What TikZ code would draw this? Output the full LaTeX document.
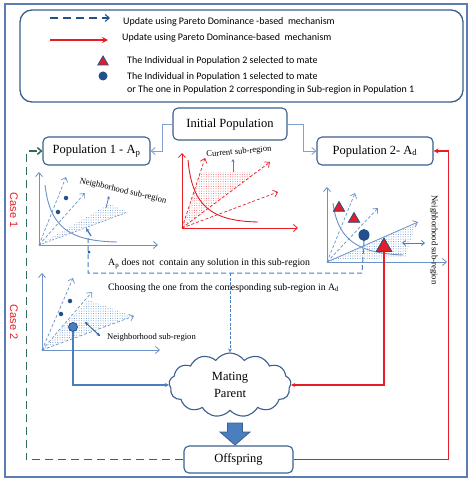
\documentclass[tikz,border=0pt]{standalone}
\usepackage{fontspec}
\setmainfont{Liberation Serif}
\newfontfamily\legfont{Carlito}
\newfontfamily\casefont{Liberation Sans}
\usetikzlibrary{arrows.meta,shapes.symbols,shapes.geometric,patterns.meta,calc}
\definecolor{frameblue}{HTML}{5B7DB1}
\definecolor{boxblue}{HTML}{3B5E8C}
\definecolor{lineblue}{HTML}{7FA2D2}
\definecolor{plotblue}{HTML}{6B93C8}
\definecolor{darkblue}{HTML}{21508C}
\definecolor{midblue}{HTML}{4A7EBE}
\definecolor{casegreen}{HTML}{2F6A5E}
\definecolor{myred}{HTML}{E41E26}
\begin{document}
\begin{tikzpicture}[x=1pt,y=-1pt,
  box/.style={draw=boxblue,line width=1.1pt,rounded corners=5pt,fill=white,inner sep=0pt,
    font=\fontsize{12.5}{14}\selectfont},
  opentip/.style={-{Straight Barb[length=4pt,width=7pt]}},
  axis/.style={draw=plotblue,line width=0.8pt,-{Straight Barb[length=4pt,width=7pt]}},
  ray/.style={draw=plotblue,line width=0.7pt,dash pattern=on 3pt off 2pt,-{Straight Barb[length=4pt,width=7pt]}},
  redaxis/.style={draw=myred,line width=0.8pt,-{Straight Barb[length=4pt,width=7pt]}},
  redray/.style={draw=myred,line width=0.7pt,dash pattern=on 3pt off 2pt,-{Straight Barb[length=4pt,width=7pt]}},
  shade/.style={pattern={Dots[radius=0.5pt,distance=2.4pt]},pattern color=plotblue},
  small/.style={font=\fontsize{8.6}{9.5}\selectfont,inner sep=0pt},
  mid/.style={font=\fontsize{9.8}{11}\selectfont,inner sep=0pt,anchor=west},
  leg/.style={font=\legfont\fontsize{10}{12}\selectfont,inner sep=0pt,anchor=west},
  tri/.style={regular polygon,regular polygon sides=3,fill=myred,draw=darkblue,line width=0.8pt,inner sep=0pt},
  dot/.style={circle,fill=darkblue,inner sep=0pt,minimum size=4.5pt},
]
\useasboundingbox (0,0) rectangle (474,484);
\fill[white] (0,0) rectangle (474,484);
% outer frame
\draw[frameblue,line width=1.3pt] (5,4) rectangle (467,477);
% legend
\draw[boxblue,line width=1.3pt,rounded corners=12pt] (20,10) rectangle (463,102);
\coordinate (la1) at (50,18); \coordinate (la2) at (110,18);
\draw[darkblue,line width=1.1pt,dash pattern=on 8pt off 5pt,opentip] (la1) -- (la2);
\coordinate (lb1) at (50,40); \coordinate (lb2) at (108,40);
\draw[myred,line width=1.1pt,-{Stealth[length=6pt,width=6pt]}] (lb1) -- (lb2);
\node[leg] (lt1) at (123,22) {Update using Pareto Dominance -based\ \ mechanism};
\node[leg] (lt2) at (122,38) {Update using Pareto Dominance-based\ \ mechanism};
\node[tri,minimum size=12pt] (ltri) at (103,62) {};
\node[leg] (lt3) at (127,61) {The Individual in Population 2 selected to mate};
\node[circle,fill=darkblue,inner sep=0pt,minimum size=9pt] (lcir) at (103,76) {};
\node[leg] (lt4) at (127,77) {The Individual in Population 1 selected to mate};
\node[leg] (lt5) at (127,90) {or The one in Population 2 corresponding in Sub-region in Population 1};

% main boxes
\node[box,minimum width=114pt,minimum height=32pt] (init) at (230,124) {Initial Population};
\node[box,minimum width=107pt,minimum height=28pt] (pop1) at (96.5,151) {Population 1 - A\textsubscript{p}};
\node[box,minimum width=116pt,minimum height=28pt] (pop2) at (375,151) {Population 2- A\textsubscript{d}};
\node[box,minimum width=109pt,minimum height=27pt] (off) at (238.5,459.5) {Offspring};
\node[cloud,cloud puffs=13,cloud puff arc=110,aspect=1.9,draw=boxblue,line width=1.1pt,
  minimum width=122pt,minimum height=64pt,inner sep=0pt,align=center,
  font=\fontsize{12.5}{17}\selectfont] (cloud) at (230,385) {Mating\\Parent};

% connectors from initial population
\draw[lineblue,line width=0.9pt,opentip] (init.west) -- +(-10,0) |- (pop1.east);
\draw[lineblue,line width=0.9pt,opentip] (init.east) -- +(16,0) |- (pop2.west);
% red feedback
\draw[myred,line width=1.2pt,-{Stealth[length=5pt,width=5pt]}] (off.east) -| ($(pop2.east)+(15,0)$) -- (pop2.east);
% green dashed feedback
\draw[casegreen,line width=1.5pt,dash pattern=on 8pt off 5pt,opentip] (off.west) -| ($(pop1.west)+(-16,0)$) -- (pop1.west);
\node[rotate=-90,text=myred,font=\casefont\fontsize{11}{12}\selectfont,inner sep=0pt] (case1) at (14,210) {Case 1};
\node[rotate=-90,text=myred,font=\casefont\fontsize{11}{12}\selectfont,inner sep=0pt] (case2) at (14,322) {Case 2};

% block arrow cloud -> offspring
\filldraw[fill=midblue,draw=boxblue,line width=0.8pt] (227.5,423) -- (242.5,423) -- (242.5,432) -- (250,432) -- (235,445) -- (220,432) -- (227.5,432) -- cycle;

% ---- plot 1 (Population 1)
\fill[shade] (40,244) -- (109,204) -- (128,212) -- cycle;
\draw[axis] (39,245) -- (39,172);
\draw[axis] (39,245) -- (158,245);
\draw[ray] (39,245) -- (66,177);
\draw[ray] (39,245) -- (85,193);
\draw[plotblue,line width=0.6pt,dash pattern=on 2pt off 1.5pt] (39,245) -- (128,212);
\draw[plotblue,line width=0.9pt] (45,185) .. controls (50,228) and (70,241) .. (117,242);
\node[dot] (p1a) at (66,198) {};
\node[dot] (p1b) at (58,212) {};
\node[small,rotate=-13] (nb1) at (123,191) {Neighborhood sub-region};
\draw[midblue,line width=0.8pt,-{Stealth[length=3pt,width=3pt]}] (106,208) -- (109,196);
\draw[midblue,line width=1.3pt,-{Stealth[length=4pt,width=4pt]}] (91,236) -- (86,228);
\node[circle,fill=darkblue,inner sep=0pt,minimum size=3pt] (p1c) at (89,252) {};

% ---- plot 2 (red, current sub-region)
\fill[pattern={Dots[radius=0.5pt,distance=2.4pt]},pattern color=myred!70] (183,227) -- (200,172) -- (257,172) -- cycle;
\draw[redaxis] (182,228) -- (182,153);
\draw[redaxis] (182,228) -- (298,228);
\draw[redray] (182,228) -- (205,158);
\draw[redray] (182,228) -- (270,162);
\draw[redray] (182,228) -- (278,192);
\draw[myred,line width=0.9pt] (188,160) .. controls (192,205) and (210,221) .. (258,222);
\node[small,rotate=5] (cur) at (239,152) {Current sub-region};
\draw[midblue,line width=0.8pt,-{Stealth[length=3pt,width=3pt]}] (233,172) -- (233,159);

% ---- plot 3 (Population 2)
\fill[shade] (328,261) -- (416,223) -- (406,257) -- cycle;
\draw[axis] (327,262) -- (327,187);
\draw[axis] (327,262) -- (447,262);
\draw[ray] (327,262) -- (355,193);
\draw[ray] (327,262) -- (378,208);
\draw[axis] (327,262) -- (418,222);
\draw[plotblue,line width=0.9pt] (333,203) .. controls (338,242) and (360,253) .. (403,255);
\node[tri,minimum size=13pt] (t1) at (339,208) {};
\node[tri,minimum size=13pt] (t2) at (354,219) {};
\node[tri,minimum size=18pt] (t3) at (384,247) {};
\node[ellipse,fill=darkblue,inner sep=0pt,minimum width=11pt,minimum height=12pt] (c3) at (364,235) {};
\draw[midblue,line width=0.8pt,{Straight Barb[length=3pt,width=5pt]}-{Straight Barb[length=3pt,width=5pt]}] (402,243) -- (425,243);
\node[small,rotate=-90] (nb3) at (434,240) {Neighborhood sub-region};

% ---- plot 4 (lower left)
\fill[shade] (43,349) -- (88,300) -- (133,316) -- cycle;
\draw[axis] (42,350) -- (42,273);
\draw[axis] (42,350) -- (160,350);
\draw[ray] (42,350) -- (73,278);
\draw[ray] (42,350) -- (92,292);
\draw[ray] (42,350) -- (134,316);
\node[dot] (p4a) at (70,301) {};
\node[dot] (p4b) at (61,314) {};
\node[circle,fill=midblue,draw=darkblue,line width=0.8pt,inner sep=0pt,minimum size=9pt] (c4) at (73,327) {};
\draw[darkblue,line width=0.8pt,{Stealth[length=3.5pt,width=3.5pt]}-{Stealth[length=3.5pt,width=3.5pt]}] (85,322) -- (100,336);
\node[small,anchor=west] (nb4) at (107,337) {Neighborhood sub-region};

% ---- middle dashed path and texts
\coordinate (d1) at (88,238);
\coordinate (d2) at (88,273);
\coordinate (d3) at (362,273);
\coordinate (d5) at (230,273);
\draw[midblue,line width=1pt,dash pattern=on 5pt off 3pt] (d1) -- (d2) -- (d3) -- (c3.south);
\draw[midblue,line width=0.9pt,dash pattern=on 3pt off 1.5pt,-{Stealth[length=4pt,width=4pt]}] (d5) -- (cloud.north);
\node[mid] (txt1) at (108,264) {A\textsubscript{p} does not\ \ contain any solution in this sub-region};
\node[mid] (txt2) at (108,288) {Choosing the one from the corresponding sub-region in A\textsubscript{d}};

% feeds into mating parent
\draw[midblue,line width=1.1pt,-{Stealth[length=4pt,width=4pt]}] (c4.south) |- (cloud.west);
\draw[myred,line width=1.2pt,-{Stealth[length=4pt,width=4pt]}] (t3.south) |- (cloud.east);
\end{tikzpicture}
\end{document}
